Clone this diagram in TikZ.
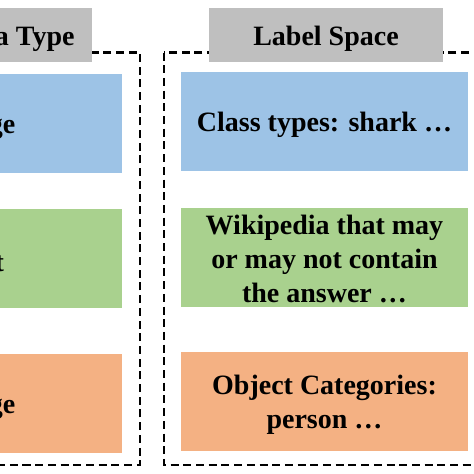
\documentclass[tikz,border=0pt]{standalone}
\usepackage{fontspec}
\setmainfont{Liberation Serif}
\tikzset{
  catbox/.style={fill=#1, minimum width=287pt, minimum height=99pt, inner sep=0pt},
  cattext/.style={align=center, inner sep=0pt, font=\fontsize{28}{34}\selectfont\bfseries},
  titlebox/.style={fill=headgray, minimum height=54pt, inner sep=0pt},
  frameline/.style={line width=2.8pt, dash pattern=on 8pt off 4.7pt}
}
\definecolor{headgray}{HTML}{BFBFBF}
\definecolor{catblue}{HTML}{9DC3E6}
\definecolor{catgreen}{HTML}{A9D18E}
\definecolor{catorange}{HTML}{F4B183}
\begin{document}
\begin{tikzpicture}[x=1pt,y=-1pt]
\useasboundingbox (0,0) rectangle (474,474);
\clip (0,0) rectangle (474,474);

% dashed frames
\draw[frameline] (-200,52.5) rectangle (140,465);
\draw[frameline] (164,52.5) rectangle (520,465);

% headers
\node[titlebox, minimum width=168pt] (datatype) at (8,35) {};
\node[titlebox, minimum width=234pt] (labelspace) at (326,35) {};
\node[cattext] at ([xshift=5pt,yshift=-4pt]datatype) {Data Type};
\node[cattext] at ([yshift=-4pt]labelspace) {Label Space};

% data type column
\node[catbox=catblue] (dimage) at (-22,123.5) {};
\node[catbox=catgreen] (dtext) at (-22,258.5) {};
\node[catbox=catorange] (dimage2) at (-22,403) {};
\node[cattext] at ([yshift=-4pt]dimage) {Image};
\node[cattext] at ([yshift=-4pt]dtext) {Text};
\node[cattext] at ([yshift=-4pt]dimage2) {Image};

% label space column
\node[catbox=catblue] (lclass) at (324.5,121.5) {};
\node[catbox=catgreen] (lwiki) at (324.5,257) {};
\node[catbox=catorange] (lobject) at (324.5,401) {};
\node[cattext] at ([yshift=-3pt]lclass) {Class types: shark …};
\node[cattext] at ([yshift=-2pt]lwiki) {Wikipedia that may\\or may not contain\\the answer …};
\node[cattext] at ([yshift=-4pt]lobject) {Object Categories:\\person …};
\end{tikzpicture}
\end{document}
